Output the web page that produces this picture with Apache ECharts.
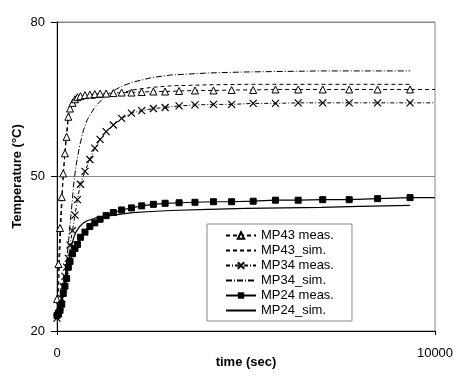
<!DOCTYPE html>
<html><head><meta charset="utf-8">
<script src="https://cdn.jsdelivr.net/npm/echarts@6/dist/echarts.min.js"></script>
<style>html,body{margin:0;padding:0;background:#fff}#c{width:474px;height:391px}</style>
</head><body><div id="c"></div>
<script>
// measured sampling times (sec)
var measTime = [0,40,80,125,165,210,255,300,345,410,475,540,620,740,870,1000,1140,1300,1490,1710,1970,2240,2550,2860,3230,3650,4140,4620,5190,5780,6380,7030,7730,8480,9340,10000];
var mp43Meas = [26.2,33,40,46,50.6,54.5,57.7,61.6,63.2,64.3,65.0,65.4,65.6,65.8,65.9,66.0,66.1,66.1,66.2,66.3,66.3,66.4,66.5,66.5,66.6,66.7,66.7,66.8,66.8,66.9,66.9,66.9,66.9,66.9,66.9,66.9];
var mp34Meas = [22.5,23.4,24.7,26.3,28.6,30.6,32.4,34.1,36.7,39.5,42.5,45.5,48.5,51,53.3,55.5,57.2,58.7,60,61.3,62.3,62.8,63.2,63.4,63.7,63.9,64.0,64.0,64.2,64.2,64.3,64.3,64.3,64.3,64.3,64.3];
var mp24Meas = [23.0,23.3,24.0,25.2,27.3,28.7,30.2,32.4,33.5,35.0,36.0,36.8,38.2,39.2,40.3,41.0,41.7,42.4,43.0,43.5,43.9,44.3,44.6,44.8,44.9,45.0,45.1,45.1,45.2,45.4,45.4,45.5,45.5,45.7,45.9,45.9];
// simulation times (sec)
var simTime = [0,50,100,150,200,250,300,350,400,450,500,600,700,800,1000,1300,1700,2000,2500,3000,4000,5000,6000,7000,8000,9340];
var mp43Sim = [23.5,30,40,48,54,58.5,61.5,63,64,64.5,64.8,65.0,65.1,65.2,65.2,65.5,66.2,66.8,67.3,67.6,67.8,67.9,67.9,67.9,67.9,67.9];
var mp34Sim = [22.5,23.5,25,27,29.5,33,37,41,45,49,52,56,59,61,63.5,65.8,67.5,68.3,69.2,69.7,70.1,70.3,70.4,70.5,70.5,70.5];
var mp24Sim = [22.5,23.5,25,27,29,31,33,35,37,38.3,39.2,40.3,41,41.4,41.9,42.3,42.7,43.0,43.2,43.4,43.6,43.8,43.9,44.0,44.2,44.4];
var seriesNames = ['MP43 meas.','MP43_sim.','MP34 meas.','MP34_sim.','MP24 meas.','MP24_sim.'];
var yTicks = [20,50,80];
var xTicks = [0,10000];

function pairs(t, v, lastNoSymbol){
  return t.map(function(x,i){
    var d = {value:[x, v[i]]};
    if (lastNoSymbol && i === t.length-1) d.symbol = 'none';
    return d;
  });
}
var FONT = '"Liberation Sans", Arial, sans-serif';
var xPath = 'path://M0,0L10,10M10,0L0,10';
var chart = echarts.init(document.getElementById('c'), null, {renderer:'canvas'});
chart.setOption({
  animation:false,
  backgroundColor:'#fff',
  textStyle:{fontFamily:FONT},
  grid:{left:57,right:39,top:22,bottom:60,containLabel:false,outerBoundsMode:'none',
        show:true,borderColor:'#888',borderWidth:1,backgroundColor:'transparent'},
  legend:{
    orient:'vertical',left:207,top:224,
    backgroundColor:'#fff',borderColor:'#888',borderWidth:1,
    padding:[5,18,4,18],itemGap:2,itemWidth:30,itemHeight:8,
    textStyle:{fontFamily:FONT,fontSize:13,color:'#000'},
    data:[
      {name:seriesNames[0]},
      {name:seriesNames[1],itemStyle:{opacity:0}},
      {name:seriesNames[2]},
      {name:seriesNames[3],itemStyle:{opacity:0}},
      {name:seriesNames[4]},
      {name:seriesNames[5],itemStyle:{opacity:0}}
    ]
  },
  xAxis:{
    type:'value',min:xTicks[0],max:xTicks[1],interval:10000,
    name:'time (sec)',nameLocation:'middle',nameGap:25,nameMoveOverlap:false,
    nameTextStyle:{fontFamily:FONT,fontSize:13,fontWeight:'bold',color:'#000'},
    axisLine:{lineStyle:{color:'#000',width:1}},
    axisTick:{show:true,length:4,lineStyle:{color:'#000'}},
    axisLabel:{fontFamily:FONT,fontSize:13,color:'#000',margin:16,formatter:function(v){return String(v);}},
    splitLine:{show:false}
  },
  yAxis:{
    type:'value',min:yTicks[0],max:yTicks[2],interval:30,
    name:'Temperature (°C)',nameLocation:'middle',nameGap:33,nameRotate:90,nameMoveOverlap:false,
    nameTextStyle:{fontFamily:FONT,fontSize:13,fontWeight:'bold',color:'#000'},
    axisLine:{show:true,lineStyle:{color:'#000',width:1}},
    axisTick:{show:true,length:6,lineStyle:{color:'#000'}},
    axisLabel:{fontFamily:FONT,fontSize:13,color:'#000',margin:12},
    splitLine:{show:true,lineStyle:{color:'#888',width:1}}
  },
  series:[
    {name:seriesNames[0],type:'line',data:pairs(measTime,mp43Meas,true),
     symbol:'triangle',symbolSize:7,showAllSymbol:true,
     itemStyle:{color:'#fff',borderColor:'#000',borderWidth:1},
     lineStyle:{color:'#000',width:1,type:[4,3]},z:5},
    {name:seriesNames[1],type:'line',data:pairs(simTime,mp43Sim,false),
     symbol:'none',itemStyle:{color:'#000'},
     lineStyle:{color:'#000',width:1,type:[4,3]}},
    {name:seriesNames[2],type:'line',data:pairs(measTime,mp34Meas,true),
     symbol:xPath,symbolSize:7,showAllSymbol:true,
     itemStyle:{color:'none',borderColor:'#000',borderWidth:1.2},
     lineStyle:{color:'#000',width:1,type:[4,2,1,2]},z:5},
    {name:seriesNames[3],type:'line',data:pairs(simTime,mp34Sim,false),
     symbol:'none',itemStyle:{color:'#000'},
     lineStyle:{color:'#000',width:1,type:[6,2,1,2]}},
    {name:seriesNames[4],type:'line',data:pairs(measTime,mp24Meas,true),
     symbol:'rect',symbolSize:6,showAllSymbol:true,
     itemStyle:{color:'#000',borderColor:'#000'},
     lineStyle:{color:'#000',width:1.2},z:5},
    {name:seriesNames[5],type:'line',data:pairs(simTime,mp24Sim,false),
     symbol:'none',itemStyle:{color:'#000'},
     lineStyle:{color:'#000',width:1.2}}
  ]
});
</script></body></html>
